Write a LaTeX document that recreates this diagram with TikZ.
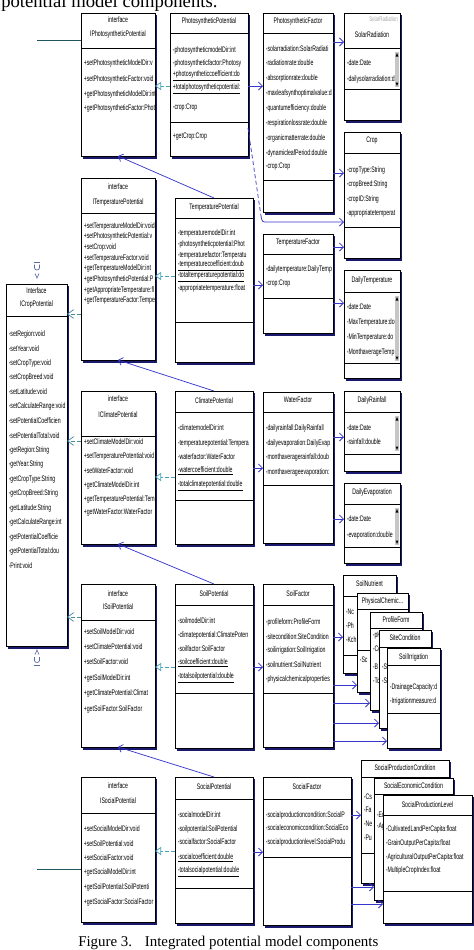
\documentclass[tikz,border=0pt]{standalone}
\usepackage{fontspec}
\setmainfont{Liberation Serif}
\newfontfamily\umlf[FakeStretch=0.65]{Liberation Sans}
\usetikzlibrary{arrows.meta,calc}
\definecolor{navy}{RGB}{25,25,110}
\definecolor{assoc}{RGB}{55,55,205}
\definecolor{realz}{RGB}{70,165,180}
\definecolor{gen}{RGB}{70,140,150}
\definecolor{leftln}{RGB}{30,85,95}
\definecolor{symc}{RGB}{90,110,170}
\newcounter{tnc}
\tikzset{
  umlbox/.style={draw=black, line width=0.55pt, fill=white, anchor=north west, inner sep=0pt, outer sep=0pt},
  utxt/.style={font=\umlf\fontsize{6}{6}\selectfont, inner sep=0pt, anchor=west},
  uhead/.style={font=\umlf\fontsize{6}{6}\selectfont, inner sep=0pt, anchor=center},
  sepline/.style={line width=0.55pt},
  assocarrow/.style={draw=assoc, line width=0.55pt, -{Straight Barb[length=3pt,width=6pt]}},
  realarrow/.style={draw=realz, line width=0.55pt, dash pattern=on 3pt off 1.5pt, -{Triangle[open,length=4.5pt,width=6pt]}},
  genarrow/.style={draw=gen, line width=0.55pt, dash pattern=on 3pt off 1.5pt, -{Straight Barb[length=4.5pt,width=6.5pt]}},
}
\newcommand\ubox[5]{%
  \fill[navy] (#2+2,#3+2) rectangle (#4+2,#5+2.5);
  \node[umlbox, minimum width={(#4-#2)*0.75pt}, minimum height={(#5-#3)*0.75pt}] (#1) at (#2,#3) {};}
\newcommand\usep[2]{\draw[sepline] (#1.west |- 0,#2) -- (#1.east |- 0,#2);}
\newcommand\ut[3]{\stepcounter{tnc}\node[utxt] (tx\arabic{tnc}) at ($(#1.west |- 0,#2)+(2.5,0)$) {#3};}
\newcommand\uh[3]{\stepcounter{tnc}\node[uhead] (tx\arabic{tnc}) at (#1.north |- 0,#2) {#3};}
\newcommand\bclip[1]{\clip (#1.south west) rectangle (#1.north east);}
\newcommand\scb[2]{%
  \fill[gray!45] (395,#1) rectangle (399,#2);
  \fill[black] (395.6,#1+4.5) -- (397,#1+1) -- (398.4,#1+4.5) -- cycle;
  \fill[black] (395.6,#2-4.5) -- (397,#2-1) -- (398.4,#2-4.5) -- cycle;}
\begin{document}
\begin{tikzpicture}[x=0.75pt,y=-0.75pt]
\fill[white] (0,0) rectangle (474,950);
\useasboundingbox (0,0) rectangle (474,950);

% captions
\node[anchor=base west, inner sep=0pt, font=\fontsize{14}{14}\selectfont] (cap1) at (1,7.5) {potential model components.};
\node[anchor=base west, inner sep=0pt, font=\fontsize{11.2}{12}\selectfont] (cap2) at (78,946) {Figure 3.\hspace{9.5pt}Integrated potential model components};

% ---------------- ICropPotential
\ubox{ICR}{6}{284}{67}{646}
\usep{ICR}{316}
\begin{scope}\bclip{ICR}
\uh{ICR}{291}{Interface}
\uh{ICR}{304}{ICropPotential}
\ut{ICR}{334}{-setRegion:void}
\ut{ICR}{348.5}{-setYear:void}
\ut{ICR}{363}{-setCropType:void}
\ut{ICR}{377.5}{-setCropBreed:void}
\ut{ICR}{392}{-setLatitude:void}
\ut{ICR}{406.5}{-setCalculateRange:void}
\ut{ICR}{421}{-setPotentialCoefficien}
\ut{ICR}{435.5}{-setPotentialTotal:void}
\ut{ICR}{450}{-getRegion:String}
\ut{ICR}{464.5}{-getYear:String}
\ut{ICR}{479}{-getCropType:String}
\ut{ICR}{493.5}{-getCropBreed:String}
\ut{ICR}{508}{-getLatitude:String}
\ut{ICR}{522.5}{-getCalculateRange:int}
\ut{ICR}{537}{-getPotentialCoefficie}
\ut{ICR}{551.5}{-getPotentialTotal:dou}
\ut{ICR}{566}{-Print:void}
\end{scope}
% interface symbols
\draw[symc, line width=0.5pt] (34,262) -- (40,262);
\draw[symc, line width=0.5pt] (34.5,264.5) -- (34.5,268) arc[start angle=180, end angle=360, x radius=2.5, y radius=-2] -- (39.5,264.5);
\draw[symc, line width=0.5pt] (35,273.5) -- (37,278) -- (39,273.5);
\draw[symc, line width=0.5pt] (35,654.5) -- (37,650) -- (39,654.5);
\draw[symc, line width=0.5pt] (34.5,657) -- (34.5,660.5) arc[start angle=180, end angle=360, x radius=2.5, y radius=-2] -- (39.5,657);
\draw[symc, line width=0.5pt] (34,665) -- (40,665);

% ---------------- Interfaces column
\ubox{IPS}{81}{13}{155}{156}
\usep{IPS}{48}
\begin{scope}\bclip{IPS}
\uh{IPS}{20}{interface}
\uh{IPS}{34}{IPhotosyntheticPotential}
\ut{IPS}{63}{+setPhotosyntheticModelDir:v}
\ut{IPS}{79}{+setPhotosyntheticFactor:void}
\ut{IPS}{94}{+getPhotosyntheticModelDir:int}
\ut{IPS}{108}{+getPhotosyntheticFactor:Phot}
\end{scope}

\ubox{ITP}{81}{178}{155}{360}
\usep{ITP}{213}
\begin{scope}\bclip{ITP}
\uh{ITP}{187}{interface}
\uh{ITP}{202}{ITemperaturePotential}
\ut{ITP}{226}{+setTemperatureModelDir:void}
\ut{ITP}{236.7}{+setPhotosyntheticPotential:v}
\ut{ITP}{247.4}{+setCrop:void}
\ut{ITP}{258.1}{+setTemperatureFactor:void}
\ut{ITP}{268.8}{+getTemperatureModelDir:int}
\ut{ITP}{279.5}{+getPhotosyntheticPotential:P}
\ut{ITP}{290.2}{+getAppropriateTemperature:fl}
\ut{ITP}{300.9}{+getTemperatureFactor:Tempera}
\end{scope}

\ubox{ICP}{81}{391}{155}{544}
\usep{ICP}{436}
\begin{scope}\bclip{ICP}
\uh{ICP}{399}{interface}
\uh{ICP}{415}{IClimatePotential}
\ut{ICP}{442}{+setClimateModelDir:void}
\ut{ICP}{456.5}{+setTemperaturePotential:void}
\ut{ICP}{471}{+setWaterFactor:void}
\ut{ICP}{485}{+getClimateModelDir:int}
\ut{ICP}{499}{+getTemperaturePotential:Tem}
\ut{ICP}{513}{+getWaterFactor:WaterFactor}
\end{scope}

\ubox{ISP}{81}{584}{155}{747}
\usep{ISP}{620}
\begin{scope}\bclip{ISP}
\uh{ISP}{594}{interface}
\uh{ISP}{607}{ISoilPotential}
\ut{ISP}{632}{+setSoilModelDir:void}
\ut{ISP}{647}{+setClimatePotential:void}
\ut{ISP}{662}{+setSoilFactor:void}
\ut{ISP}{678}{+getSoilModelDir:int}
\ut{ISP}{693}{+getClimatePotential:Climat}
\ut{ISP}{709}{+getSoilFactor:SoilFactor}
\end{scope}

\ubox{ISO}{81}{777}{155}{922}
\usep{ISO}{813}
\begin{scope}\bclip{ISO}
\uh{ISO}{786}{interface}
\uh{ISO}{801}{ISocialPotential}
\ut{ISO}{829}{+setSocialModelDir:void}
\ut{ISO}{844}{+setSoilPotential:void}
\ut{ISO}{858}{+setSocialFactor:void}
\ut{ISO}{872}{+getSocialModelDir:int}
\ut{ISO}{887}{+getSoilPotential:SoilPotenti}
\ut{ISO}{902}{+getSocialFactor:SocialFactor}
\end{scope}

% ---------------- Potentials column
\ubox{PP}{170}{13}{248}{156}
\usep{PP}{33}\usep{PP}{122}
\begin{scope}\bclip{PP}
\uh{PP}{21}{PhotosyntheticPotential}
\ut{PP}{50}{-photosyntheticmodelDir:int}
\ut{PP}{63}{-photosyntheticfactor:Photosy}
\ut{PP}{76}{\underline{+photosyntheticcoefficient:do}}
\ut{PP}{89}{\underline{+totalphotosyntheticpotential:}}
\ut{PP}{108}{-crop:Crop}
\ut{PP}{137}{+getCrop:Crop}
\end{scope}

\ubox{TP}{175}{198}{253}{362}
\usep{TP}{218}\usep{TP}{322}
\begin{scope}\bclip{TP}
\uh{TP}{207}{TemperaturePotential}
\ut{TP}{233}{-temperaturemodelDir:int}
\ut{TP}{244}{-photosyntheticpotential:Phot}
\ut{TP}{255}{-temperaturefactor:Temperatu}
\ut{TP}{266}{\underline{-temperaturecoefficient:doub}}
\ut{TP}{277}{\underline{-totaltemperaturepotential:do}}
\ut{TP}{288}{-appropriatetemperature:float}
\end{scope}

\ubox{CP}{175}{391}{253}{544}
\usep{CP}{412}\usep{CP}{500}
\begin{scope}\bclip{CP}
\uh{CP}{401}{ClimatePotential}
\ut{CP}{428}{-climatemodelDir:int}
\ut{CP}{443}{-temperaturepotential:Tempera}
\ut{CP}{457}{-waterfactor:WaterFactor}
\ut{CP}{471}{\underline{-watercoefficient:double}}
\ut{CP}{486}{\underline{-totalclimatepotential:double}}
\end{scope}

\ubox{SP}{175}{584}{253}{748}
\usep{SP}{605}\usep{SP}{693}
\begin{scope}\bclip{SP}
\uh{SP}{594}{SoilPotential}
\ut{SP}{621}{-soilmodelDir:int}
\ut{SP}{635}{-climatepotential:ClimatePoten}
\ut{SP}{649}{-soilfactor:SoilFactor}
\ut{SP}{663}{\underline{-soilcoefficient:double}}
\ut{SP}{678}{\underline{-totalsoilpotential:double}}
\end{scope}

\ubox{SOP}{175}{777}{253}{923}
\usep{SOP}{799}\usep{SOP}{888}
\begin{scope}\bclip{SOP}
\uh{SOP}{787}{SocialPotential}
\ut{SOP}{815}{-socialmodelDir:int}
\ut{SOP}{829}{-soilpotential:SoilPotential}
\ut{SOP}{842}{-socialfactor:SocialFactor}
\ut{SOP}{858}{\underline{-socialcoefficient:double}}
\ut{SOP}{872}{\underline{-totalsocialpotential:double}}
\end{scope}

% ---------------- Factors column
\ubox{PF}{263}{13}{333}{212}
\usep{PF}{33}\usep{PF}{180}
\begin{scope}\bclip{PF}
\uh{PF}{21}{PhotosyntheticFactor}
\ut{PF}{49}{-solarradiation:SolarRadiati}
\ut{PF}{63}{-radiationrate:double}
\ut{PF}{78}{-absorptionrate:double}
\ut{PF}{93}{-maxleafsynthoptimalvalue:d}
\ut{PF}{108}{-quantumefficiency:double}
\ut{PF}{123}{-respirationlossrate:double}
\ut{PF}{138}{-organicmatterrate:double}
\ut{PF}{153}{-dynamicleafPeriod:double}
\ut{PF}{167}{-crop:Crop}
\end{scope}

\ubox{TF}{263}{234}{333}{333}
\usep{TF}{254}\usep{TF}{298}
\begin{scope}\bclip{TF}
\uh{TF}{243}{TemperatureFactor}
\ut{TF}{269}{-dailytemperature:DailyTemp}
\ut{TF}{284}{-crop:Crop}
\end{scope}

\ubox{WF}{263}{392}{333}{543}
\usep{WF}{412}\usep{WF}{485}
\begin{scope}\bclip{WF}
\uh{WF}{400}{WaterFactor}
\ut{WF}{428}{-dailyrainfall:DailyRainfall}
\ut{WF}{443}{-dailyevaporation:DailyEvap}
\ut{WF}{457}{-monthaveragerainfall:doub}
\ut{WF}{472}{-monthaverageevaporation:}
\end{scope}

\ubox{SF}{263}{584}{333}{747}
\usep{SF}{605}\usep{SF}{693}
\begin{scope}\bclip{SF}
\uh{SF}{594}{SoilFactor}
\ut{SF}{622}{-profileform:ProfileForm}
\ut{SF}{637}{-sitecondition:SiteCondition}
\ut{SF}{650}{-soilirrigation:SoilIrrigation}
\ut{SF}{665}{-soilnutrient:SoilNutrient}
\ut{SF}{679}{-physicalchemicalproperties}
\end{scope}

\ubox{SOF}{263}{777}{351}{925}
\usep{SOF}{799}\usep{SOF}{857}
\begin{scope}\bclip{SOF}
\uh{SOF}{787}{SocialFactor}
\ut{SOF}{815}{-socialproductioncondition:SocialP}
\ut{SOF}{828}{-socialeconomiccondition:SocialEco}
\ut{SOF}{842}{-socialproductionlevel:SocialProdu}
\end{scope}

% ---------------- Data classes column
\ubox{SR}{344}{13}{400}{120}
\usep{SR}{48}\usep{SR}{89}
\begin{scope}\bclip{SR}
\node[uhead, anchor=east, text=gray!70, font=\umlf\fontsize{5}{5}\selectfont] (srst) at (398,19) {SolarRadiation};
\uh{SR}{35}{SolarRadiation}
\ut{SR}{63}{-date:Date}
\ut{SR}{79}{-dailysolarradiation:d}
\scb{52}{87}
\end{scope}

\ubox{CR}{344}{132}{400}{258}
\usep{CR}{153}\usep{CR}{227}
\begin{scope}\bclip{CR}
\uh{CR}{141}{Crop}
\ut{CR}{170}{-cropType:String}
\ut{CR}{184}{-cropBreed:String}
\ut{CR}{199}{-cropID:String}
\ut{CR}{213}{-appropriatetemperat}
\end{scope}

\ubox{DT}{344}{270}{400}{378}
\usep{DT}{292}\usep{DT}{363}
\begin{scope}\bclip{DT}
\uh{DT}{280}{DailyTemperature}
\ut{DT}{307}{-date:Date}
\ut{DT}{322}{-MaxTemperature:do}
\ut{DT}{337}{-MinTemperature:do}
\ut{DT}{352}{-MonthaverageTemp}
\scb{296}{361}
\end{scope}

\ubox{DR}{344}{391}{400}{471}
\usep{DR}{412}\usep{DR}{454}
\begin{scope}\bclip{DR}
\uh{DR}{400}{DailyRainfall}
\ut{DR}{428}{-date:Date}
\ut{DR}{442}{-rainfall:double}
\scb{416}{451}
\end{scope}

\ubox{DE}{344}{483}{400}{563}
\usep{DE}{504}\usep{DE}{547}
\begin{scope}\bclip{DE}
\uh{DE}{492}{DailyEvaporation}
\ut{DE}{519}{-date:Date}
\ut{DE}{535}{-evaporation:double}
\scb{508}{545}
\end{scope}

% soil stack
\ubox{SN}{343}{575}{396}{673}
\usep{SN}{596}\usep{SN}{655}
\begin{scope}\bclip{SN}
\uh{SN}{584}{SoilNutrient}
\ut{SN}{612}{-Nc}
\ut{SN}{626}{-Ph}
\ut{SN}{640}{-Kch}
\end{scope}

\ubox{PCH}{357}{593}{408}{692}
\usep{PCH}{609}\usep{PCH}{650}
\begin{scope}\bclip{PCH}
\uh{PCH}{601}{PhysicalChemic...}
\ut{PCH}{660}{-Sc}
\end{scope}

\ubox{PFM}{370}{612}{422}{710}
\usep{PFM}{628}
\begin{scope}\bclip{PFM}
\uh{PFM}{620}{ProfileForm}
\ut{PFM}{636}{-pH}
\ut{PFM}{650}{-Cg}
\ut{PFM}{667}{-B}
\ut{PFM}{681}{-Tc}
\end{scope}

\ubox{SC}{379}{630}{431}{728}
\usep{SC}{647}
\begin{scope}\bclip{SC}
\uh{SC}{638}{SiteCondition}
\ut{SC}{667}{-Sl}
\ut{SC}{681}{-Sa}
\end{scope}

\ubox{SI}{387}{648}{440}{748}
\usep{SI}{665}\usep{SI}{713}
\begin{scope}\bclip{SI}
\uh{SI}{657}{SoilIrrigation}
\ut{SI}{687}{-DrainageCapacity:d}
\ut{SI}{701}{-Irrigationmeasure:d}
\end{scope}

% social stack
\ubox{SPC}{361}{760}{449}{883}
\usep{SPC}{777}\usep{SPC}{853}
\begin{scope}\bclip{SPC}
\uh{SPC}{768}{SocialProductionCondition}
\ut{SPC}{797}{-Cs}
\ut{SPC}{810}{-Fa}
\ut{SPC}{824}{-Ne}
\ut{SPC}{838}{-Pu}
\end{scope}

\ubox{SEC}{374}{778}{453}{900}
\usep{SEC}{794}
\begin{scope}\bclip{SEC}
\uh{SEC}{786}{SocialEconomicCondition}
\ut{SEC}{815}{-Ec}
\ut{SEC}{827}{-Ag}
\end{scope}

\ubox{SPL}{383}{795}{472}{923}
\usep{SPL}{815}\usep{SPL}{891}
\begin{scope}\bclip{SPL}
\uh{SPL}{805}{SocialProductionLevel}
\ut{SPL}{829}{-CultivatedLandPerCapita:float}
\ut{SPL}{843}{-GrainOutputPerCapita:float}
\ut{SPL}{857}{-AgriculturalOutputPerCapita:float}
\ut{SPL}{870}{-MultipleCropIndex:float}
\end{scope}

% ---------------- connectors
\coordinate (lt) at (37,40);
\coordinate (lb) at (37,869);
\draw[leftln, line width=0.6pt] (lt) -- (IPS.west |- lt);
\draw[leftln, line width=0.6pt] (lb) -- (ISO.west |- lb);

% generalisation to ICropPotential
\draw[genarrow] (ITP.west |- 0,314) -- (ICR.east |- 0,314);
\draw[genarrow] (ICP.west |- 0,441) -- (ICR.east |- 0,441);
\draw[genarrow] (ISP.west |- 0,617) -- (ICR.east |- 0,617);

% realisations
\draw[realarrow] (PP.west |- 0,86) -- (IPS.east |- 0,86);
\draw[realarrow] (TP.west |- 0,276) -- (ITP.east |- 0,276);
\draw[realarrow] (CP.west |- 0,477) -- (ICP.east |- 0,477);
\draw[realarrow] (SP.west |- 0,667) -- (ISP.east |- 0,667);
\draw[realarrow] (SOP.west |- 0,851) -- (ISO.east |- 0,851);

% potentials to interface above
\draw[assocarrow] (TP.north) -- (IPS.south);
\draw[assocarrow] (CP.north) -- (ITP.south);
\draw[assocarrow] (SP.north) -- (ICP.south);
\draw[assocarrow] (SOP.north) -- (ISP.south);

% potentials to factors
\draw[assocarrow] (PP.east |- 0,86) -- (PF.west |- 0,86);
\draw[assocarrow] (TP.east |- 0,285) -- (TF.west |- 0,285);
\draw[assocarrow] (CP.east |- 0,468) -- (WF.west |- 0,468);
\draw[assocarrow] (SP.east |- 0,667) -- (SF.west |- 0,667);
\draw[assocarrow] (SOP.east |- 0,852) -- (SOF.west |- 0,852);

% dependency PhotosyntheticPotential -> Crop
\coordinate (bend) at (261,216);
\draw[assoc, line width=0.55pt, dash pattern=on 3pt off 2pt] (PP.east |- 0,128) -- (bend);
\draw[assocarrow] (bend) .. controls (262,222) .. (268,222) -- (CR.west |- 0,222);

% factors to data classes
\draw[assocarrow] (PF.east |- 0,42) -- (SR.west |- 0,42);
\draw[assocarrow] (PF.east |- 0,173) -- (CR.west |- 0,173);
\draw[assocarrow] (TF.east |- 0,247) -- (CR.west |- 0,247);
\draw[assocarrow] (TF.east |- 0,303) -- (DT.west |- 0,303);
\draw[assocarrow] (WF.east |- 0,437) -- (DR.west |- 0,437);
\draw[assocarrow] (WF.east |- 0,519) -- (DE.west |- 0,519);

\draw[assocarrow] (SF.east |- 0,637) -- (SN.west |- 0,637);
\draw[assocarrow] (SF.east |- 0,685) -- (PCH.west |- 0,685);
\draw[assocarrow] (SF.east |- 0,703) -- (PFM.west |- 0,703);
\draw[assocarrow] (SF.east |- 0,723) -- (SC.west |- 0,723);
\draw[assocarrow] (SF.east |- 0,741) -- (SI.west |- 0,741);

\draw[assocarrow] (SOF.east |- 0,815) -- (SPC.west |- 0,815);
\draw[assocarrow] (SOF.east |- 0,887) -- (SEC.west |- 0,887);
\draw[assocarrow] (SOF.east |- 0,904) -- (SPL.west |- 0,904);
\end{tikzpicture}
\end{document}
